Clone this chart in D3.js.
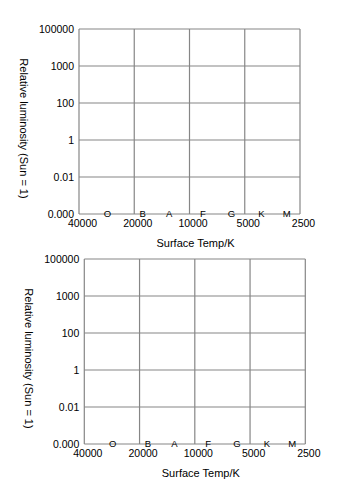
<!DOCTYPE html>
<html>
<head>
<meta charset="utf-8">
<script src="https://cdn.jsdelivr.net/npm/d3@7"></script>
<style>
  body { margin: 0; background: #fff; }
  svg { display: block; }
  svg text { font-family: "Liberation Sans", Arial, Helvetica, sans-serif; }
</style>
</head>
<body>
<div id="chart"></div>
<script>
// surface temperature ticks (K), log scale reversed
const tempTicks = [40000, 20000, 10000, 5000, 2500];
// luminosity tick labels, bottom to top (as printed)
const lumLabels = ['0.000', '0.01', '1', '100', '1000', '100000'];
// spectral classes and where they sit on the temperature axis
const spectralClasses = ['O', 'B', 'A', 'F', 'G', 'K', 'M'];
const spectralTemps = [28000, 18000, 12900, 8450, 5900, 4050, 2950];

const W = 354, H = 500;
const svg = d3.select('#chart').append('svg')
  .attr('width', W)
  .attr('height', H);

const gridColor = '#868686';
const font = '"Liberation Sans", Arial, Helvetica, sans-serif';

function drawPanel(left, top) {
  const width = 221, height = 185;
  const g = svg.append('g').attr('transform', `translate(${left},${top})`);

  const x = d3.scaleLog().base(2)
    .domain([tempTicks[0], tempTicks[tempTicks.length - 1]])
    .range([0, width]);

  const y = d3.scalePoint()
    .domain(lumLabels)
    .range([height, 0])
    .padding(0);

  // grid
  g.append('g').selectAll('line')
    .data(tempTicks)
    .join('line')
      .attr('x1', d => x(d)).attr('x2', d => x(d))
      .attr('y1', 0).attr('y2', height)
      .attr('stroke', gridColor)
      .attr('stroke-width', 1.2);

  g.append('g').selectAll('line')
    .data(lumLabels)
    .join('line')
      .attr('x1', 0).attr('x2', width)
      .attr('y1', d => y(d)).attr('y2', d => y(d))
      .attr('stroke', gridColor)
      .attr('stroke-width', 1.2);

  // y axis labels
  g.append('g')
      .call(d3.axisLeft(y).tickSize(0).tickPadding(5))
      .attr('font-family', font)
      .attr('font-size', 10.5)
      .call(a => a.select('.domain').remove())
      .selectAll('text')
        .attr('fill', '#000');

  // x axis labels
  g.append('g')
      .attr('transform', `translate(0,${height})`)
      .call(d3.axisBottom(x).tickValues(tempTicks).tickFormat(d3.format('d')).tickSize(0).tickPadding(6))
      .attr('font-family', font)
      .attr('font-size', 10.5)
      .call(a => a.select('.domain').remove())
      .selectAll('text')
        .attr('dx', 3)
        .attr('fill', '#000');

  // spectral class letters sitting on the axis
  g.append('g').selectAll('text')
    .data(spectralClasses)
    .join('text')
      .attr('x', (d, i) => x(spectralTemps[i]))
      .attr('y', height)
      .attr('dy', '0.3em')
      .attr('text-anchor', 'middle')
      .attr('font-size', 9.5)
      .attr('fill', '#000')
      .text(d => d);

  // axis titles
  g.append('text')
      .attr('transform', `translate(-55,${height / 2 + 7}) rotate(90)`)
      .attr('dy', '0.35em')
      .attr('text-anchor', 'middle')
      .attr('font-size', 11)
      .attr('fill', '#000')
      .text('Relative luminosity (Sun = 1)');

  g.append('text')
      .attr('x', width / 2 + 6)
      .attr('y', height + 29)
      .attr('dy', '0.35em')
      .attr('text-anchor', 'middle')
      .attr('font-size', 11)
      .attr('fill', '#000')
      .text('Surface Temp/K');
}

drawPanel(79, 29);
drawPanel(84.3, 259);
</script>
</body>
</html>
